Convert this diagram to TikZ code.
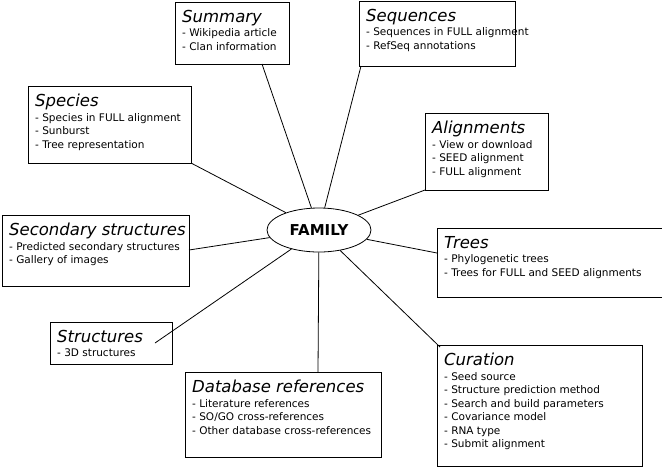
\documentclass[tikz,border=0pt]{standalone}
\usepackage{fontspec}
\setmainfont{DejaVu Sans}
\usetikzlibrary{shapes.geometric,calc}
\begin{document}
\begin{tikzpicture}[x=1pt,y=-1pt,
  box/.style={draw,line width=0.8pt,fill=white,anchor=north west,inner sep=0pt},
  txt/.style={anchor=north west,align=left,inner sep=0pt,font=\fontsize{10.5}{13.5}\selectfont},
  ttl/.style={font=\fontsize{16.5}{19}\selectfont\itshape},
  con/.style={line width=0.8pt}]
\useasboundingbox (0,0) rectangle (662,467);
\newcommand{\mybox}[7]{%
  \node[box,minimum width=#3,minimum height=#4] (#5) at (#1,#2) {};
  \node[txt] (#5t) at ($(#1,#2)+(7,8)$) {{\fontsize{16.5}{19}\selectfont\itshape #6}\\[1pt] #7};}
\mybox{175}{2}{114}{62}{sum}{Summary}{- Wikipedia article\\- Clan information}
\mybox{359}{1}{156}{65}{seq}{Sequences}{- Sequences in FULL alignment\\- RefSeq annotations}
\mybox{28}{86}{163}{77}{spe}{Species}{- Species in FULL alignment\\- Sunburst\\- Tree representation}
\mybox{425}{113}{123}{77}{ali}{Alignments}{- View or download\\- SEED alignment\\- FULL alignment}
\mybox{2}{215}{187}{71}{sec}{Secondary structures}{- Predicted secondary structures\\- Gallery of images}
\mybox{437}{228}{225}{69}{tre}{Trees}{- Phylogenetic trees\\- Trees for FULL and SEED alignments}
\mybox{50}{322}{122}{42}{str}{Structures}{- 3D structures}
\mybox{185}{372}{196}{85}{dbr}{Database references}{- Literature references\\- SO/GO cross-references\\- Other database cross-references}
\mybox{437}{345}{205}{121}{cur}{Curation}{- Seed source\\- Structure prediction method\\- Search and build parameters\\- Covariance model\\- RNA type\\- Submit alignment}
\node[ellipse,draw,line width=0.8pt,minimum width=104pt,minimum height=44pt,font=\fontsize{15}{17}\selectfont\bfseries] (fam) at (319,230) {FAMILY};
\draw[con] (fam) -- (262,64);
\draw[con] (fam) -- (361,66);
\draw[con] (fam) -- (191,163);
\draw[con] (fam) -- (425,190);
\draw[con] (fam) -- (189,250);
\draw[con] (fam) -- (437,253);
\draw[con] (fam) -- (155,343);
\draw[con] (fam) -- (318,372);
\draw[con] (fam) -- (440,347);
\end{tikzpicture}
\end{document}
